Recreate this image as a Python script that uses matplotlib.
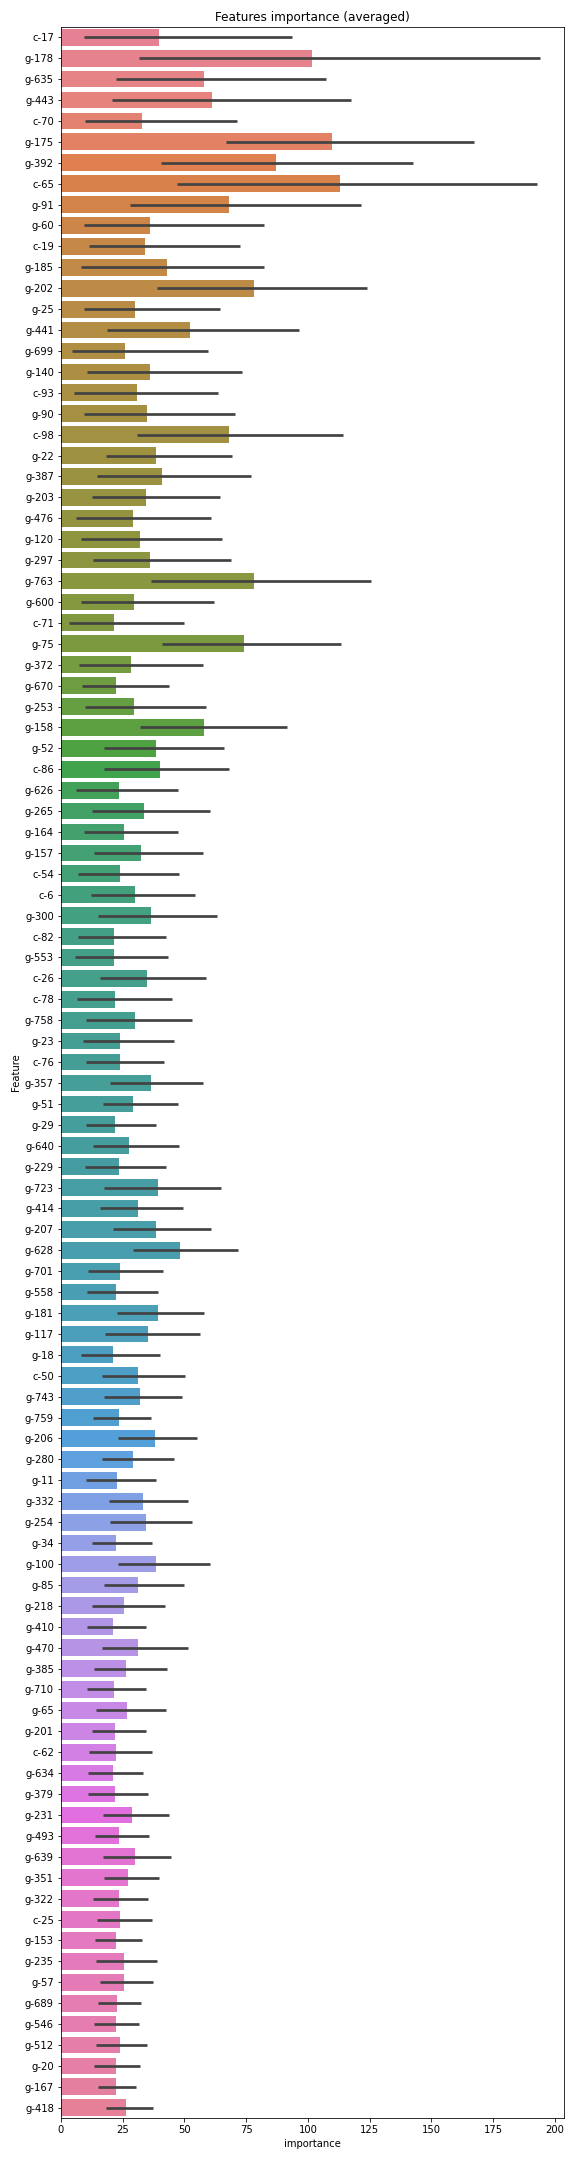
import numpy as np
import matplotlib
matplotlib.use("Agg")
import matplotlib.pyplot as plt
import seaborn as sns


features = [
    "c-17", "g-178", "g-635", "g-443", "c-70", "g-175", "g-392", "c-65", "g-91", "g-60",
    "c-19", "g-185", "g-202", "g-25", "g-441", "g-699", "g-140", "c-93", "g-90", "c-98",
    "g-22", "g-387", "g-203", "g-476", "g-120", "g-297", "g-763", "g-600", "c-71", "g-75",
    "g-372", "g-670", "g-253", "g-158", "g-52", "c-86", "g-626", "g-265", "g-164", "g-157",
    "c-54", "c-6", "g-300", "c-82", "g-553", "c-26", "c-78", "g-758", "g-23", "c-76",
    "g-357", "g-51", "g-29", "g-640", "g-229", "g-723", "g-414", "g-207", "g-628", "g-701",
    "g-558", "g-181", "g-117", "g-18", "c-50", "g-743", "g-759", "g-206", "g-280", "g-11",
    "g-332", "g-254", "g-34", "g-100", "g-85", "g-218", "g-410", "g-470", "g-385", "g-710",
    "g-65", "g-201", "c-62", "g-634", "g-379", "g-231", "g-493", "g-639", "g-351", "g-322",
    "c-25", "g-153", "g-235", "g-57", "g-689", "g-546", "g-512", "g-20", "g-167", "g-418",
]

importance = [
    39.6, 101.6, 57.8, 61.1, 32.8, 109.8, 87.0, 113.0, 67.9, 35.9,
    34.0, 42.9, 78.0, 30.2, 52.1, 25.8, 35.9, 30.7, 34.7, 67.9,
    38.4, 40.8, 34.3, 29.0, 31.9, 35.9, 78.0, 29.5, 21.3, 74.0,
    28.3, 22.5, 29.5, 57.8, 38.4, 40.1, 23.4, 33.5, 25.5, 32.3,
    24.1, 29.8, 36.3, 21.3, 21.3, 34.7, 21.7, 29.8, 23.8, 23.8,
    36.3, 29.0, 21.7, 27.4, 23.4, 39.2, 31.4, 38.4, 48.1, 23.8,
    22.2, 39.2, 35.1, 21.0, 31.1, 31.9, 23.4, 38.0, 29.0, 22.9,
    33.1, 34.3, 22.2, 38.7, 31.4, 25.5, 21.0, 31.4, 26.2, 21.3,
    26.7, 21.7, 22.5, 21.0, 21.7, 28.6, 23.4, 29.8, 27.0, 23.4,
    24.1, 22.2, 25.5, 25.5, 22.9, 22.2, 23.8, 22.2, 22.2, 26.2,
]

ci_low = [
    9.4, 31.6, 22.3, 20.7, 9.7, 66.9, 40.5, 47.1, 28.0, 9.4,
    11.3, 8.0, 38.9, 9.4, 18.6, 4.5, 10.6, 5.2, 9.4, 30.8,
    18.3, 14.6, 12.5, 6.1, 8.0, 13.0, 36.5, 8.0, 3.3, 41.0,
    7.3, 8.5, 9.7, 32.0, 17.4, 17.4, 6.1, 12.5, 9.4, 13.4,
    6.9, 12.2, 15.0, 6.9, 5.7, 15.8, 6.6, 10.1, 8.9, 10.1,
    19.8, 17.0, 10.1, 13.0, 9.7, 17.4, 15.8, 21.1, 29.2, 11.0,
    10.6, 22.6, 17.9, 8.0, 16.7, 17.4, 13.0, 23.1, 16.7, 10.1,
    19.5, 19.8, 12.5, 23.1, 17.4, 12.5, 10.6, 16.7, 13.4, 10.6,
    14.1, 12.5, 11.3, 11.0, 11.0, 17.0, 13.8, 17.0, 17.4, 13.0,
    14.6, 13.8, 14.1, 15.8, 15.0, 13.4, 14.1, 13.4, 15.0, 18.3,
]

ci_high = [
    93.4, 193.9, 107.5, 117.6, 71.5, 167.1, 142.4, 192.7, 121.4, 82.1,
    72.7, 82.4, 123.8, 64.6, 96.6, 59.7, 73.4, 63.7, 70.6, 114.1,
    69.1, 77.1, 64.6, 60.9, 65.4, 68.7, 125.4, 62.1, 50.0, 113.6,
    57.6, 43.9, 58.8, 91.7, 66.1, 68.2, 47.5, 60.2, 47.5, 57.6,
    48.0, 54.1, 63.3, 42.7, 43.5, 58.8, 45.1, 52.9, 45.6, 41.8,
    57.6, 47.5, 38.6, 48.0, 42.7, 64.9, 49.6, 60.9, 71.9, 41.4,
    39.5, 58.1, 56.4, 40.2, 50.3, 49.1, 36.6, 55.2, 45.9, 38.6,
    51.5, 53.2, 36.9, 60.5, 50.0, 42.3, 34.5, 51.5, 43.0, 34.5,
    42.7, 34.5, 36.9, 33.4, 35.4, 43.9, 35.7, 44.7, 39.9, 35.4,
    36.9, 32.9, 39.0, 37.4, 32.6, 31.7, 35.0, 32.2, 30.5, 37.4,
]


if __name__ == "__main__":
    fig, ax = plt.subplots(figsize=(8, 30), dpi=72)

    colors = [sns.desaturate(c, 0.75) for c in sns.husl_palette(len(features))]
    pos = np.arange(len(features))

    ax.barh(pos, importance, height=0.8, color=colors)
    ax.hlines(pos, ci_low, ci_high, color=".26", linewidth=2.7)

    ax.set_yticks(pos)
    ax.set_yticklabels(features)
    ax.set_ylim(len(features) - 0.5, -0.5)
    ax.set_xlabel("importance")
    ax.set_ylabel("Feature")
    ax.set_title("Features importance (averaged)")

    plt.tight_layout()
    plt.savefig("out.png")
